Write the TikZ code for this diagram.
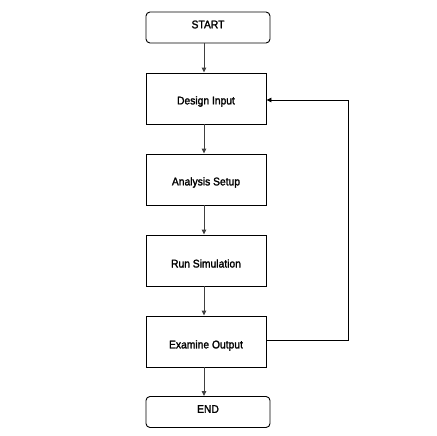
\documentclass[tikz,border=0pt]{standalone}
\usepackage{fontspec}
\setmainfont{Liberation Sans}
\newfontface\lbl{Liberation Sans}[FakeBold=1.8]
\usetikzlibrary{arrows.meta}
\begin{document}
\begin{tikzpicture}[x=1pt,y=-1pt,
  box/.style={draw=black,line width=0.9pt,minimum width=120pt,minimum height=51pt,inner sep=0pt,font=\lbl\fontsize{11.2}{13}\selectfont},
  term/.style={draw=black,line width=0.9pt,rounded corners=4pt,minimum width=124pt,minimum height=31pt,inner sep=0pt,font=\lbl\fontsize{11.2}{13}\selectfont},
  conn/.style={draw=black!75,line width=0.9pt,-{Triangle[length=5pt,width=4.5pt]}}]
\useasboundingbox (0,0) rectangle (436,436);
\node[term] (start) at (208,27.5) {\raisebox{3pt}[\height][\depth]{\scalebox{0.92}[1]{START}}};
\node[box] (design) at (206,98.5) {\raisebox{-3pt}[\height][\depth]{\scalebox{0.92}[1]{Design Input}}};
\node[box] (analysis) at (206,179.5) {\raisebox{-3pt}[\height][\depth]{\scalebox{0.92}[1]{Analysis Setup}}};
\node[box] (run) at (206,260.5) {\raisebox{-3pt}[\height][\depth]{\scalebox{0.92}[1]{Run Simulation}}};
\node[box] (examine) at (206,341.5) {\raisebox{-4pt}[\height][\depth]{\scalebox{0.92}[1]{Examine Output}}};
\node[term] (end) at (208,412) {\raisebox{3pt}[\height][\depth]{\scalebox{0.92}[1]{END}}};
\coordinate (fbtop) at (348,100);
\coordinate (fbbot) at (348,340.5);
\draw[conn] ([xshift=-4pt]start.south) -- ([xshift=-2pt]design.north);
\draw[conn] ([xshift=-2pt]design.south) -- ([xshift=-2pt]analysis.north);
\draw[conn] ([xshift=-2pt]analysis.south) -- ([xshift=-2pt]run.north);
\draw[conn] ([xshift=-2pt]run.south) -- ([xshift=-2pt]examine.north);
\draw[conn] ([xshift=-2pt]examine.south) -- ([xshift=-4pt]end.north);
\draw[conn,draw=black] (examine.east |- fbbot) -- (fbbot) -- (fbtop) -- (design.east |- fbtop);
\end{tikzpicture}
\end{document}
